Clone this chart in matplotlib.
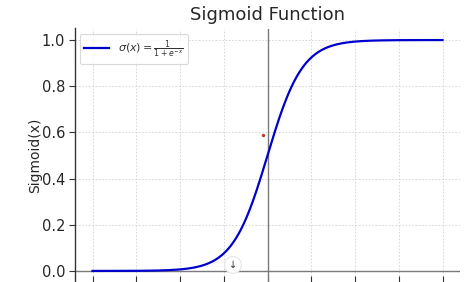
"""
Sigmoid Function — recreation of a cropped screenshot
"""
import matplotlib
matplotlib.use("Agg")
import numpy as np
import matplotlib.pyplot as plt

# ── data ─────────────────────────────────────────────
x_min, x_max = -10, 10
n_points = 400
x_ticks = [-10, -7.5, -5, -2.5, 0, 2.5, 5, 7.5, 10]
y_ticks = [0.0, 0.2, 0.4, 0.6, 0.8, 1.0]
dot_x = [-0.26]
dot_y = [0.59]

x = np.linspace(x_min, x_max, n_points)
y = 1 / (1 + np.exp(-x))

# ── colours ──────────────────────────────────────────
C_LINE = "#0000cc"
C_GRID = "#d2d2d2"
C_AXLINE = "#7a7a7a"
C_TEXT = "#262626"

fig = plt.figure(figsize=(4.74, 2.82), dpi=100)
fig.patch.set_facecolor("white")
ax = fig.add_axes([75 / 474, -0.5 / 282, 385 / 474, 254 / 282])

ax.plot(x, y, color=C_LINE, lw=1.6, label=r"$\sigma(x) = \frac{1}{1 + e^{-x}}$", zorder=3)
ax.axhline(0, color=C_AXLINE, lw=1.0, zorder=2)
ax.axvline(0, color=C_AXLINE, lw=1.0, zorder=2)
ax.scatter(dot_x, dot_y, s=2, color="#c0392b", zorder=4)

ax.set_xlim(-11, 11)
ax.set_ylim(-0.05, 1.05)
ax.set_xticks(x_ticks)
ax.set_yticks(y_ticks)
ax.set_yticklabels([f"{v:.1f}" for v in y_ticks])
ax.grid(True, color=C_GRID, linestyle=(0, (2, 2)), lw=0.6)

for s in ["top", "right", "bottom"]:
    ax.spines[s].set_visible(False)
ax.spines["left"].set_color("#333333")
ax.spines["left"].set_linewidth(1.0)

ax.tick_params(axis="y", direction="out", length=4, colors="#333333", labelsize=10.5,
               labelcolor=C_TEXT, pad=3)
# x tick labels fall below the cropped edge of the screenshot
ax.tick_params(axis="x", direction="in", length=5, colors="#333333", labelbottom=False)

ax.set_ylabel("Sigmoid(x)", fontsize=10, color=C_TEXT, labelpad=0)
ax.set_title("Sigmoid Function", fontsize=13, color=C_TEXT, pad=6)

leg = ax.legend(loc="upper left", fontsize=8, frameon=True, borderaxespad=0.45,
                handlelength=2.2, fancybox=True, borderpad=0.4)
leg.get_frame().set_edgecolor("#d0d0d0")
leg.get_frame().set_linewidth(0.8)
for t in leg.get_texts():
    t.set_color("#333333")

# scroll button overlay seen in the screenshot
fig.text(233 / 474, 1 - 265 / 282, "↓", ha="center", va="center", fontsize=7, color="#333333",
         bbox=dict(boxstyle="circle,pad=0.35", fc="white", ec="#e6e6e6", lw=0.8), zorder=10)

fig.savefig("out.png", dpi=100, facecolor="white")
